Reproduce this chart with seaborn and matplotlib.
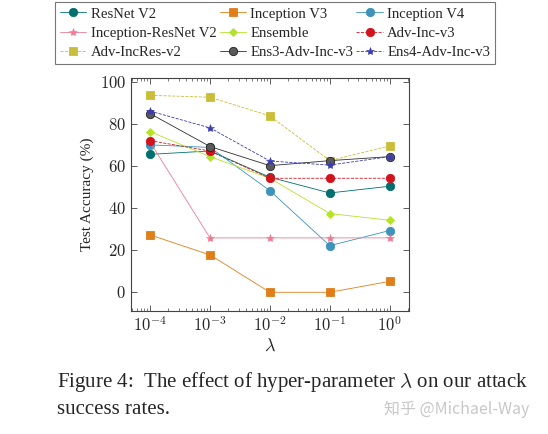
import numpy as np
import pandas as pd
import seaborn as sns
import matplotlib.pyplot as plt
from matplotlib.ticker import FixedLocator, LogLocator, NullFormatter

lambdas = [1e-4, 1e-3, 1e-2, 1e-1, 1e0]

resnet_v2 = [65.7, 67.3, 54.8, 47.3, 50.5]
inception_v3 = [27.3, 17.8, 0.0, 0.0, 5.2]
inception_v4 = [70.2, 69.0, 48.4, 22.2, 29.4]
inc_resnet_v2 = [71.5, 25.9, 25.9, 25.9, 25.9]
ensemble = [76.5, 64.6, 54.3, 37.5, 34.3]
adv_inc_v3 = [72.2, 67.3, 54.3, 54.3, 54.3]
adv_incres_v2 = [93.8, 92.9, 84.0, 62.7, 69.7]
ens3_adv_inc_v3 = [85.1, 69.4, 60.3, 62.7, 64.6]
ens4_adv_inc_v3 = [86.3, 78.3, 62.5, 60.6, 64.6]

series = [
    ("ResNet V2", resnet_v2, "#00706e", "o", "-"),
    ("Inception V3", inception_v3, "#e07e1a", "s", "-"),
    ("Inception V4", inception_v4, "#3d93bb", "o", "-"),
    ("Inception-ResNet V2", inc_resnet_v2, "#ee7b92", "*", "-"),
    ("Ensemble", ensemble, "#b4e32a", "D", "-"),
    ("Adv-Inc-v3", adv_inc_v3, "#d4121c", "o", "--"),
    ("Adv-IncRes-v2", adv_incres_v2, "#c9bd3a", "s", "--"),
    ("Ens3-Adv-Inc-v3", ens3_adv_inc_v3, "#2e2e2e", "o", "-"),
    ("Ens4-Adv-Inc-v3", ens4_adv_inc_v3, "#3b3bb3", "*", "--"),
]

sns.set_style("ticks")
plt.rcParams['font.family'] = ['Liberation Serif', 'DejaVu Serif']
plt.rcParams['mathtext.fontset'] = 'cm'

fig = plt.figure(figsize=(5.48, 4.34), dpi=100)
ax = fig.add_axes([0.239, 0.283, 0.507, 0.537])

handles = []
for name, vals, color, marker, ls in series:
    df = pd.DataFrame({"lam": lambdas, "acc": vals})
    msize = 6
    if marker == "D":
        msize = 4
    face = color
    edge = color
    if name == "Ens3-Adv-Inc-v3":
        face = "#5a5a5a"
        edge = "#222222"
    sns.lineplot(data=df, x="lam", y="acc", ax=ax, color=color, marker=marker,
                 linestyle=ls, linewidth=0.6, markersize=msize,
                 markerfacecolor=face, markeredgecolor=edge,
                 markeredgewidth=0.6 if marker != "*" else 0.4)
    handles.append(ax.lines[-1])

ax.set_xscale("log")
ax.set_xlim(10 ** -4.32, 10 ** 0.32)
ax.set_ylim(-9, 102)
ax.xaxis.set_major_locator(FixedLocator(lambdas))
ax.set_xticklabels([r"$10^{-4}$", r"$10^{-3}$", r"$10^{-2}$", r"$10^{-1}$", r"$10^{0}$"])
ax.xaxis.set_minor_locator(LogLocator(base=10, subs=np.arange(2, 10), numticks=20))
ax.xaxis.set_minor_formatter(NullFormatter())
yt = [0, 20, 40, 60, 80, 100]
ax.set_yticks(yt)
ax.set_yticklabels([rf"${v}$" for v in yt])
ax.tick_params(which="both", direction="in", top=True, right=True, labelsize=12, color="#444444")
ax.tick_params(which="major", length=4, width=0.6)
ax.tick_params(which="minor", length=2.5, width=0.5)
for s in ax.spines.values():
    s.set_color("#444444")
    s.set_linewidth(0.8)
ax.set_xlabel(r"$\lambda$", fontsize=13, labelpad=2)
ax.set_ylabel("Test Accuracy (%)", fontsize=11)

# pgfplots fills the legend row by row
order = [0, 3, 6, 1, 4, 7, 2, 5, 8]
leg = fig.legend([handles[i] for i in order], [series[i][0] for i in order],
                 ncol=3, loc="upper center", bbox_to_anchor=(0.502, 0.995),
                 fontsize=10.6, frameon=True, fancybox=False, edgecolor="#555555",
                 handlelength=1.8, columnspacing=0.2, handletextpad=0.3,
                 labelspacing=0.4, borderpad=0.35, borderaxespad=0.0)
leg.get_frame().set_linewidth(0.8)

fig.text(0.104, 0.108, r"Figure 4:  The effect of hyper-parameter $\lambda$ on our attack",
         fontsize=15, ha="left", va="baseline")
fig.text(0.104, 0.045, "success rates.", fontsize=15, ha="left", va="baseline")
fig.text(0.70, 0.045, "知乎 @Michael-Way", fontsize=11.5, color="#c8c8c8",
         family=['Noto Sans CJK SC', 'DejaVu Sans'], ha="left", va="baseline")

fig.savefig("out.png", dpi=100)
